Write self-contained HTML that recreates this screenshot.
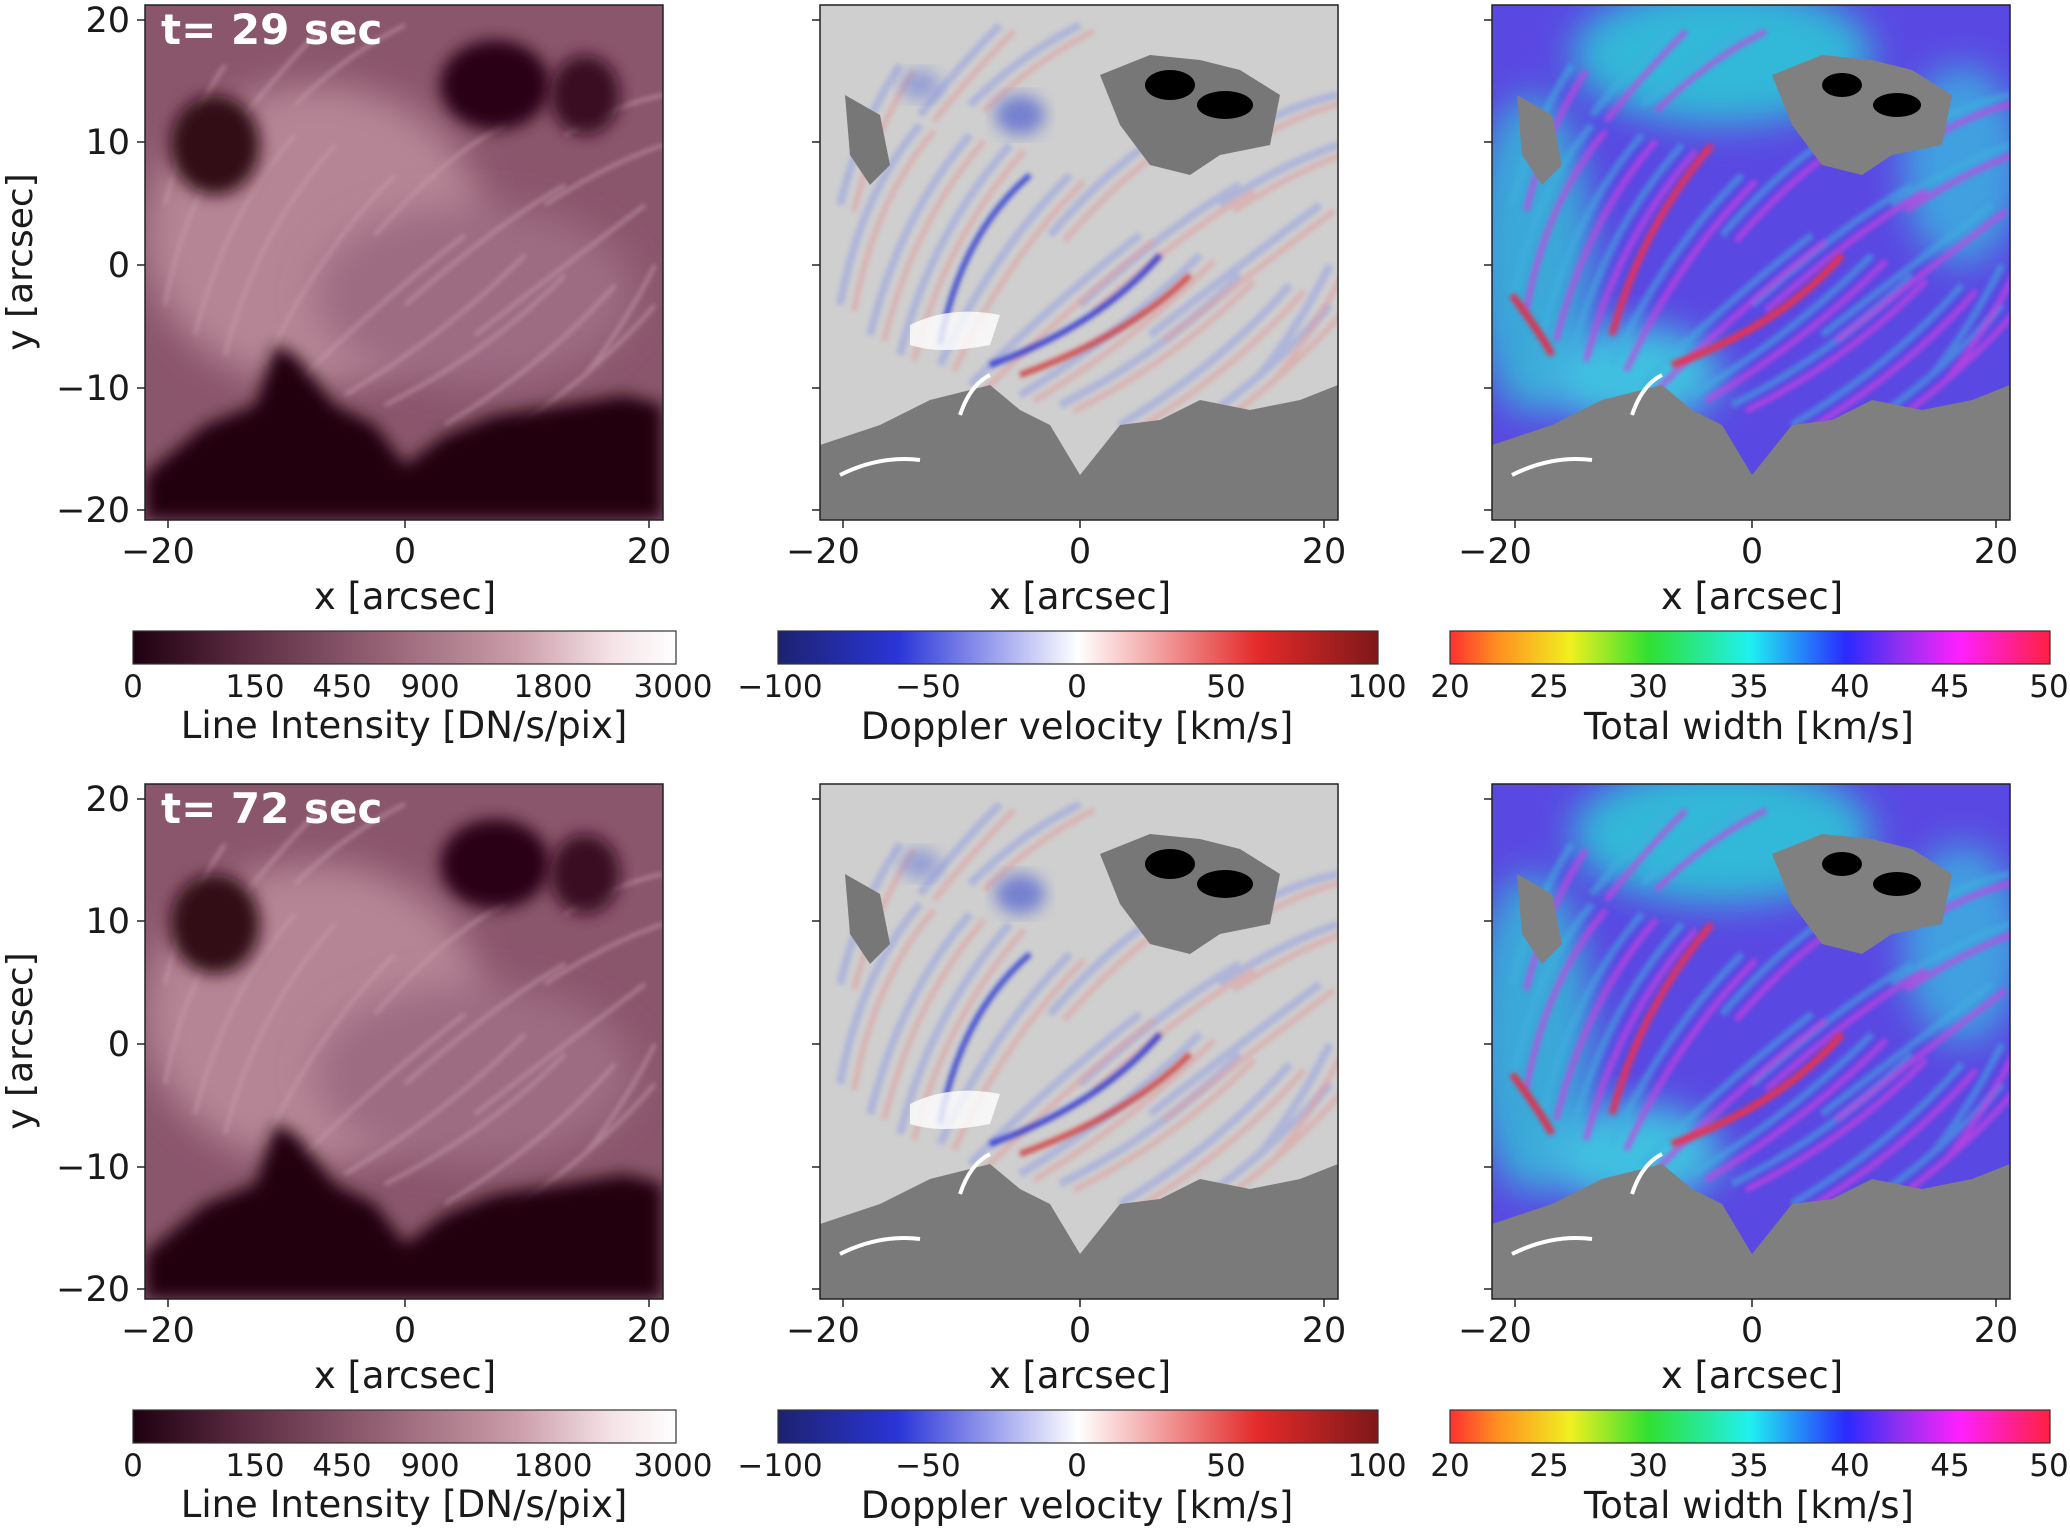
<!DOCTYPE html>
<html><head><meta charset="utf-8"><style>
html,body{margin:0;padding:0;background:#fff}
svg{display:block}
text{font-family:"DejaVu Sans","Liberation Sans",sans-serif;fill:#1a1a1a}
</style></head><body>
<svg width="2070" height="1531" viewBox="0 0 2070 1531" xmlns="http://www.w3.org/2000/svg">
<defs>
<filter id="b8" x="-20%" y="-20%" width="140%" height="140%"><feGaussianBlur stdDeviation="8"/></filter>
<filter id="b3"><feGaussianBlur stdDeviation="2.5"/></filter>
<filter id="b20" x="-30%" y="-30%" width="160%" height="160%"><feGaussianBlur stdDeviation="18"/></filter>
<clipPath id="cp"><rect x="0" y="0" width="518" height="515"/></clipPath>
<linearGradient id="gI" x1="0" x2="1"><stop offset="0" stop-color="#1e0010"/><stop offset="0.2" stop-color="#5a2a40"/><stop offset="0.45" stop-color="#936073"/><stop offset="0.7" stop-color="#c99aa7"/><stop offset="0.88" stop-color="#f4e2e6"/><stop offset="1" stop-color="#ffffff"/></linearGradient>
<linearGradient id="gD" x1="0" x2="1"><stop offset="0" stop-color="#1c2270"/><stop offset="0.2" stop-color="#2a35d8"/><stop offset="0.5" stop-color="#ffffff"/><stop offset="0.8" stop-color="#e42a2a"/><stop offset="1" stop-color="#7e1818"/></linearGradient>
<linearGradient id="gW" x1="0" x2="1"><stop offset="0" stop-color="#ff3030"/><stop offset="0.08" stop-color="#ff9020"/><stop offset="0.2" stop-color="#f0f020"/><stop offset="0.33" stop-color="#30e030"/><stop offset="0.5" stop-color="#20f0f0"/><stop offset="0.66" stop-color="#2a2aff"/><stop offset="0.75" stop-color="#9030f0"/><stop offset="0.85" stop-color="#ff20ff"/><stop offset="1" stop-color="#ff2040"/></linearGradient>

<g id="arcs">
<path d="M20 300 Q40 190 100 120"/><path d="M50 330 Q80 210 150 130"/><path d="M80 350 Q110 230 190 140"/>
<path d="M120 360 Q170 250 250 170"/><path d="M150 380 Q230 300 320 230"/><path d="M200 390 Q300 330 380 250"/>
<path d="M240 400 Q340 350 420 270"/><path d="M300 420 Q400 360 470 280"/><path d="M360 430 Q450 370 510 300"/>
<path d="M230 230 Q300 150 360 120"/><path d="M260 300 Q350 220 420 180"/><path d="M330 330 Q420 260 500 200"/>
<path d="M400 200 Q460 160 518 140"/><path d="M420 130 Q470 100 518 90"/><path d="M150 100 Q200 50 260 20"/>
<path d="M20 200 Q40 120 80 60"/><path d="M100 110 Q140 60 180 20"/><path d="M440 370 Q480 320 510 260"/>
</g>

<g id="pI">
<g clip-path="url(#cp)">
<rect width="518" height="515" fill="#8a566c"/>
<ellipse cx="170" cy="230" rx="170" ry="150" fill="#b58595" filter="url(#b20)"/>
<ellipse cx="330" cy="290" rx="160" ry="90" fill="#9d6c82" filter="url(#b20)"/>
<use href="#arcs" fill="none" stroke="#c59aaa" stroke-width="4" opacity="0.6" filter="url(#b3)"/>
<ellipse cx="70" cy="140" rx="45" ry="50" fill="#300818" filter="url(#b8)"/>
<ellipse cx="350" cy="80" rx="55" ry="45" fill="#2a0615" filter="url(#b8)"/>
<ellipse cx="440" cy="90" rx="35" ry="40" fill="#3a0c20" filter="url(#b8)"/>
<path d="M0 470 L60 420 L110 400 L130 340 L150 350 L190 400 L230 420 L260 460 L300 430 L350 410 L420 400 L480 390 L518 400 L518 515 L0 515 Z" fill="#22040f" filter="url(#b8)"/>
</g>
<rect x="0" y="0" width="518" height="515" fill="none" stroke="#222" stroke-width="1.5"/>
</g>

<g id="pD">
<g clip-path="url(#cp)">
<rect width="518" height="515" fill="#cfcfcf"/>
<use href="#arcs" fill="none" stroke="#9aa4e0" stroke-width="8" opacity="0.6" filter="url(#b3)"/>
<use href="#arcs" transform="translate(14,6)" fill="none" stroke="#e0a0a0" stroke-width="6" opacity="0.6" filter="url(#b3)"/>
<g fill="none" stroke-width="6" filter="url(#b3)" opacity="0.85">
<path d="M120 340 Q140 230 210 170" stroke="#3040d0"/>
<path d="M170 360 Q280 320 340 250" stroke="#2a30d0"/>
<path d="M200 370 Q310 330 370 270" stroke="#d03a3a"/>
</g>
<ellipse cx="200" cy="110" rx="25" ry="20" fill="#5060d0" filter="url(#b8)" opacity="0.7"/>
<ellipse cx="100" cy="80" rx="20" ry="15" fill="#7080d8" filter="url(#b8)" opacity="0.6"/>
<path d="M90 320 Q130 300 180 310 L170 340 Q120 350 90 340 Z" fill="#ffffff" opacity="0.8"/>
<path d="M280 70 L330 50 L380 55 L420 65 L460 90 L450 140 L400 150 L370 170 L330 160 L300 120 Z" fill="#777"/>
<ellipse cx="350" cy="80" rx="25" ry="15" fill="#000"/>
<ellipse cx="405" cy="100" rx="28" ry="14" fill="#000"/>
<path d="M25 90 L60 110 L70 160 L50 180 L30 150 Z" fill="#777"/>
<path d="M0 440 L60 420 L110 395 L170 380 L200 405 L230 420 L260 470 L300 420 L340 415 L380 395 L430 405 L480 395 L518 380 L518 515 L0 515 Z" fill="#7a7a7a"/>
<path d="M20 470 Q60 450 100 455 M140 410 Q150 380 170 370" stroke="#fff" stroke-width="4" fill="none"/>
</g>
<rect x="0" y="0" width="518" height="515" fill="none" stroke="#222" stroke-width="1.5"/>
</g>

<g id="pW">
<g clip-path="url(#cp)">
<rect width="518" height="515" fill="#5a48e2"/>
<ellipse cx="230" cy="50" rx="150" ry="70" fill="#30b8d8" filter="url(#b20)"/>
<ellipse cx="40" cy="250" rx="60" ry="160" fill="#3aa8d8" filter="url(#b20)"/>
<ellipse cx="470" cy="160" rx="60" ry="100" fill="#40a0e0" filter="url(#b20)"/>
<ellipse cx="140" cy="370" rx="90" ry="50" fill="#40c0e0" filter="url(#b20)"/>
<use href="#arcs" fill="none" stroke="#40b0e0" stroke-width="7" opacity="0.55" filter="url(#b3)"/>
<use href="#arcs" transform="translate(14,6)" fill="none" stroke="#d040e0" stroke-width="6" opacity="0.7" filter="url(#b3)"/>
<g fill="none" stroke-width="7" filter="url(#b3)">
<path d="M120 330 Q150 220 220 140" stroke="#e03060"/>
<path d="M180 360 Q290 320 350 250" stroke="#e83050"/>
<path d="M20 290 Q50 330 60 350" stroke="#e03050"/>
</g>
<path d="M280 70 L330 50 L380 55 L420 65 L460 90 L450 140 L400 150 L370 170 L330 160 L300 120 Z" fill="#808080"/>
<ellipse cx="350" cy="80" rx="20" ry="12" fill="#000"/>
<ellipse cx="405" cy="100" rx="24" ry="12" fill="#000"/>
<path d="M25 90 L60 110 L70 160 L50 180 L30 150 Z" fill="#808080"/>
<path d="M0 440 L60 420 L110 395 L170 380 L200 405 L230 420 L260 470 L300 420 L340 415 L380 395 L430 405 L480 395 L518 380 L518 515 L0 515 Z" fill="#7f7f7f"/>
<path d="M20 470 Q60 450 100 455 M140 410 Q150 380 170 370" stroke="#fff" stroke-width="4" fill="none"/>
</g>
<rect x="0" y="0" width="518" height="515" fill="none" stroke="#222" stroke-width="1.5"/>
</g>

<g id="ticks" stroke="#222" stroke-width="1.5">
<line x1="23" y1="515" x2="23" y2="523"/><line x1="260" y1="515" x2="260" y2="523"/><line x1="504" y1="515" x2="504" y2="523"/>
<line x1="0" y1="15" x2="-8" y2="15"/><line x1="0" y1="137" x2="-8" y2="137"/><line x1="0" y1="260" x2="-8" y2="260"/><line x1="0" y1="383" x2="-8" y2="383"/><line x1="0" y1="505" x2="-8" y2="505"/>
</g>

<g id="labels">
<g font-size="35">
<g text-anchor="end"><text x="130" y="32">20</text><text x="130" y="154">10</text><text x="130" y="277">0</text><text x="130" y="400">−10</text><text x="130" y="522">−20</text></g>
<text transform="translate(32,262) rotate(-90)" text-anchor="middle" font-size="36">y [arcsec]</text>
<g text-anchor="middle">
<text x="158" y="563">−20</text><text x="405" y="563">0</text><text x="649" y="563">20</text>
<text x="823" y="563">−20</text><text x="1080" y="563">0</text><text x="1324" y="563">20</text>
<text x="1495" y="563">−20</text><text x="1752" y="563">0</text><text x="1996" y="563">20</text>
<g font-size="37"><text x="405" y="609">x [arcsec]</text><text x="1080" y="609">x [arcsec]</text><text x="1752" y="609">x [arcsec]</text></g>
</g>
</g>
<g font-size="31" text-anchor="middle">
<rect x="133" y="631" width="543" height="33" fill="url(#gI)" stroke="#333" stroke-width="1.2"/>
<rect x="778" y="631" width="600" height="33" fill="url(#gD)" stroke="#333" stroke-width="1.2"/>
<rect x="1450" y="631" width="600" height="33" fill="url(#gW)" stroke="#333" stroke-width="1.2"/>
<text x="133" y="697">0</text><text x="255" y="697">150</text><text x="342" y="697">450</text><text x="430" y="697">900</text><text x="553" y="697">1800</text><text x="673" y="697">3000</text>
<text x="780" y="697">−100</text><text x="928" y="697">−50</text><text x="1077" y="697">0</text><text x="1226" y="697">50</text><text x="1377" y="697">100</text>
<text x="1450" y="697">20</text><text x="1549" y="697">25</text><text x="1648" y="697">30</text><text x="1749" y="697">35</text><text x="1850" y="697">40</text><text x="1950" y="697">45</text><text x="2049" y="697">50</text>
<g font-size="37"><text x="404" y="738">Line Intensity [DN/s/pix]</text><text x="1077" y="739">Doppler velocity [km/s]</text><text x="1749" y="739">Total width [km/s]</text></g>
</g>
</g>
</defs>

<use href="#pI" x="145" y="5"/><use href="#ticks" x="145" y="5"/>
<use href="#pD" x="820" y="5"/><use href="#ticks" x="820" y="5"/>
<use href="#pW" x="1492" y="5"/><use href="#ticks" x="1492" y="5"/>
<use href="#labels"/>
<text x="161" y="44" font-weight="bold" font-size="42" style="fill:#fff">t= 29 sec</text>

<g transform="translate(0,779)">
<use href="#pI" x="145" y="5"/><use href="#ticks" x="145" y="5"/>
<use href="#pD" x="820" y="5"/><use href="#ticks" x="820" y="5"/>
<use href="#pW" x="1492" y="5"/><use href="#ticks" x="1492" y="5"/>
<use href="#labels"/>
<text x="161" y="44" font-weight="bold" font-size="42" style="fill:#fff">t= 72 sec</text>
</g>
</svg>
</body></html>
